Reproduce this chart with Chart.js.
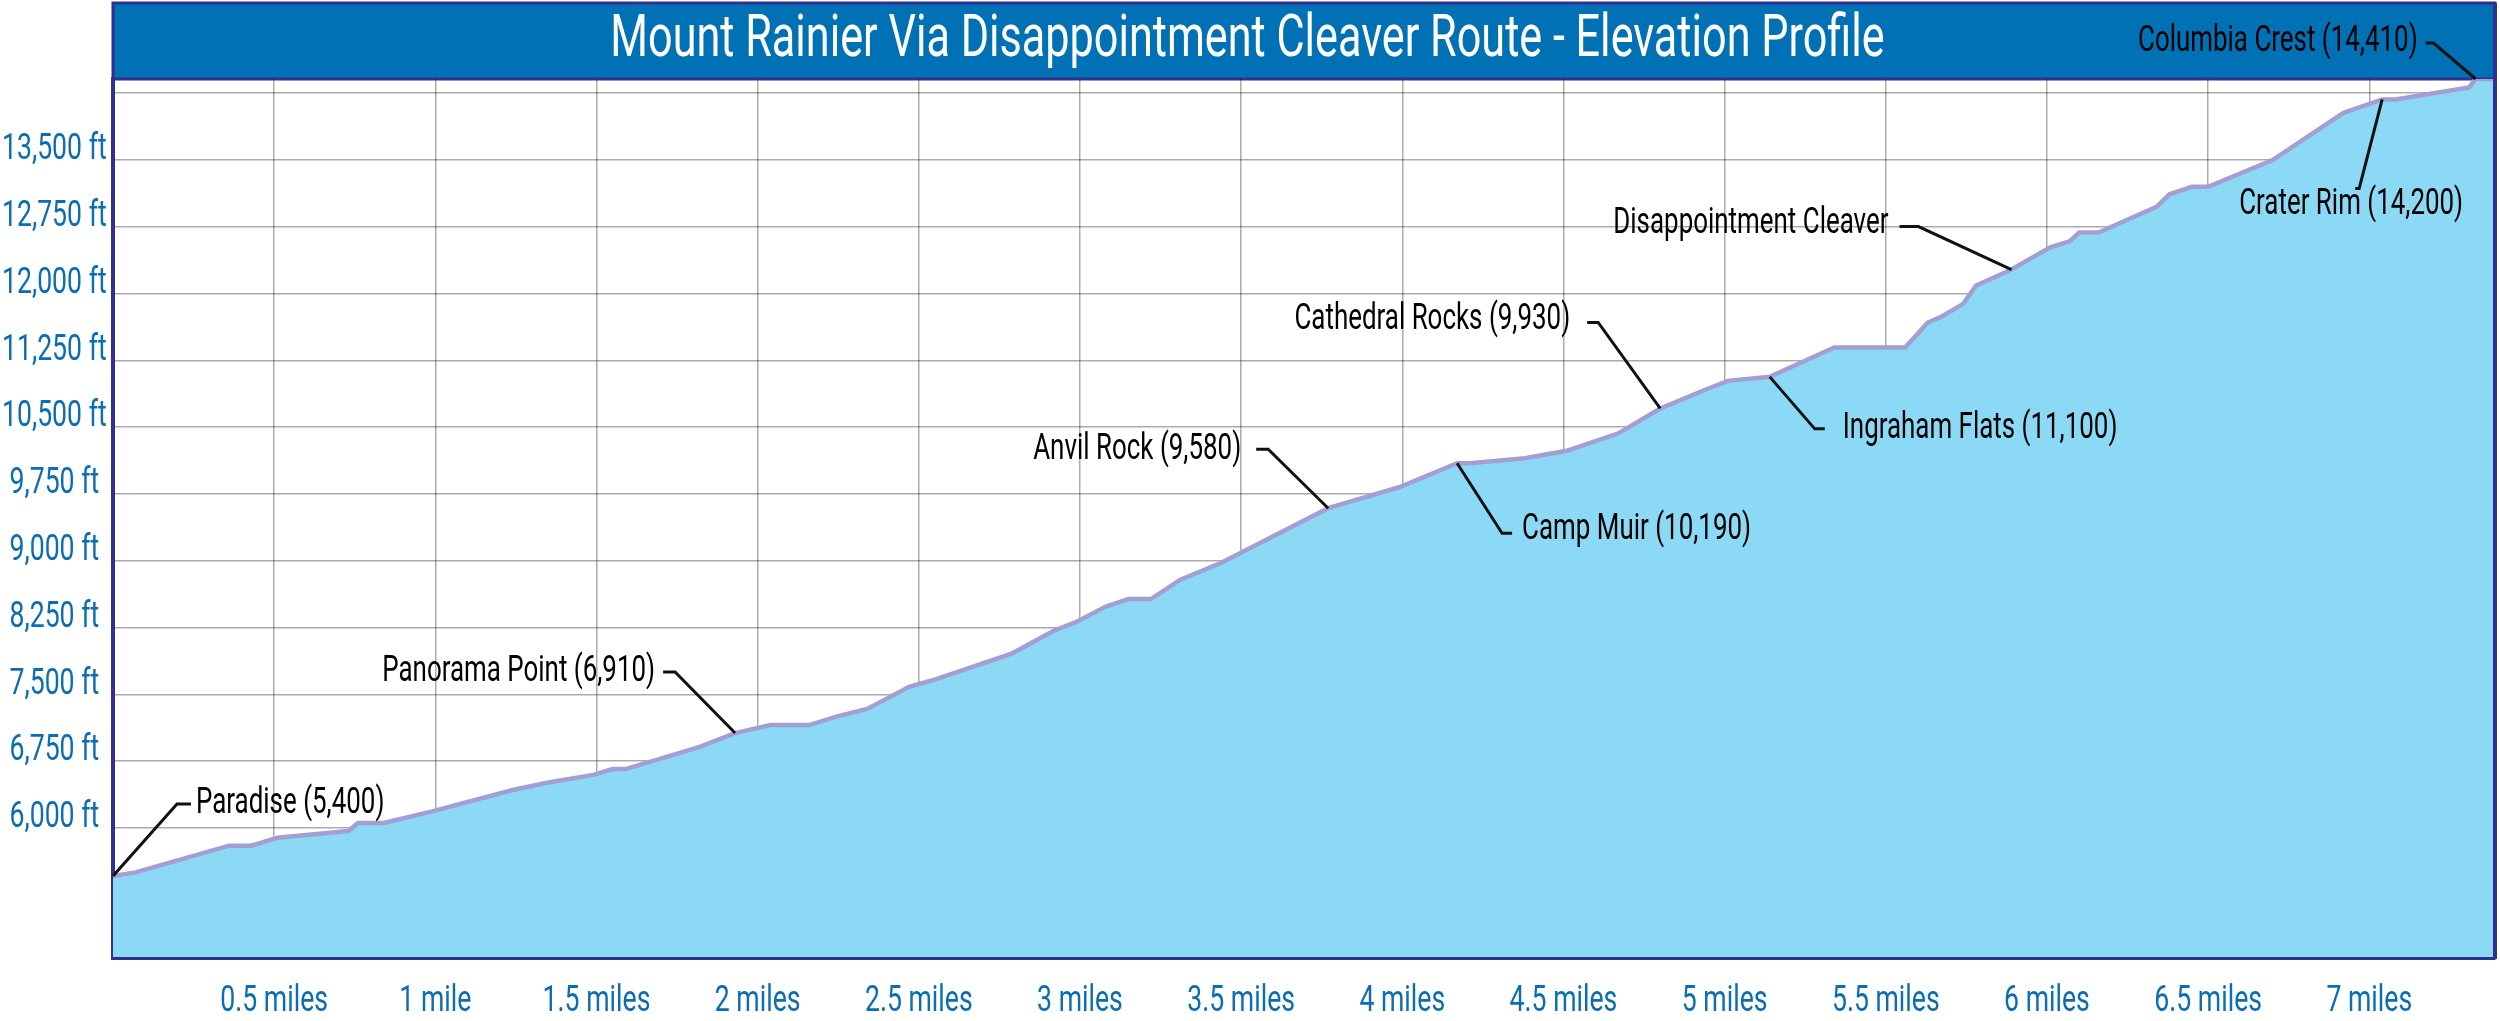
<!DOCTYPE html>
<html>
<head>
<meta charset="utf-8">
<title>Mount Rainier Elevation Profile</title>
<script src="https://cdn.jsdelivr.net/npm/chart.js@4.4.1/dist/chart.umd.min.js"></script>
<style>
  html, body { margin: 0; padding: 0; background: #fff; }
  #wrap { width: 2500px; height: 1021px; }
</style>
</head>
<body>
<div id="wrap"><canvas id="chart" width="2500" height="1021"></canvas></div>
<script>
// ===== DATA =====
const distanceMiles = [
    0.00, 0.07, 0.36, 0.43, 0.51, 0.73, 0.76, 0.84, 0.99, 1.24,
    1.35, 1.49, 1.55, 1.59, 1.82, 1.93, 2.04, 2.16, 2.25, 2.34,
    2.47, 2.54, 2.79, 2.92, 2.99, 3.08, 3.15, 3.22, 3.31, 3.44,
    3.77, 3.99, 4.17, 4.21, 4.38, 4.51, 4.67, 4.80, 4.94, 5.01,
    5.14, 5.34, 5.56, 5.63, 5.67, 5.74, 5.78, 5.89, 6.01, 6.07,
    6.10, 6.16, 6.34, 6.38, 6.45, 6.50, 6.70, 6.92, 7.04, 7.08,
    7.31, 7.33, 7.39
];
const elevationFt = [
    5460, 5500, 5800, 5800, 5890, 5965, 6055, 6055, 6185, 6425,
    6510, 6595, 6660, 6660, 6910, 7065, 7155, 7155, 7255, 7335,
    7585, 7655, 7960, 8215, 8315, 8485, 8570, 8570, 8785, 8980,
    9590, 9825, 10095, 10095, 10150, 10235, 10430, 10710, 10920, 11020,
    11065, 11395, 11395, 11675, 11735, 11885, 12090, 12270, 12520, 12585,
    12685, 12685, 12975, 13115, 13200, 13200, 13500, 14030, 14180, 14180,
    14315, 14410, 14410
];

const xTickValues = [0.5, 1, 1.5, 2, 2.5, 3, 3.5, 4, 4.5, 5, 5.5, 6, 6.5, 7];
const xTickLabels = ['0.5 miles', '1 mile', '1.5 miles', '2 miles', '2.5 miles', '3 miles', '3.5 miles',
    '4 miles', '4.5 miles', '5 miles', '5.5 miles', '6 miles', '6.5 miles', '7 miles'];
const yTickValues = [6000, 6750, 7500, 8250, 9000, 9750, 10500, 11250, 12000, 12750, 13500, 14250];
const yTickLabels = ['6,000 ft', '6,750 ft', '7,500 ft', '8,250 ft', '9,000 ft', '9,750 ft', '10,500 ft',
    '11,250 ft', '12,000 ft', '12,750 ft', '13,500 ft', ''];

// landmark callouts: text + which profile point they point at
const landmarkNames = ['Paradise (5,400)', 'Panorama Point (6,910)', 'Anvil Rock (9,580)', 'Camp Muir (10,190)',
    'Cathedral Rocks (9,930)', 'Ingraham Flats (11,100)', 'Disappointment Cleaver', 'Crater Rim (14,200)',
    'Columbia Crest (14,410)'];
const landmarkPoint = [0, 15, 30, 32, 37, 40, 47, 58, 61];

const FONT = "Roboto, 'Liberation Sans', sans-serif";
const SQUEEZE = 0.72;   // the original uses a tall condensed face
const DARK_BLUE = '#2e3192';
const BAR_BLUE = '#0071b5';
const TICK_BLUE = '#0b6db3';

// leader line layout per callout (pixel offsets from the point): elbow dx, dy, end dx, text x, text y, align
const calloutLayout = [
    { ex: 64, ey: -72, hx: 78, tx: 83, ty: -72, align: 'left' },
    { ex: -60, ey: -61, hx: -72, tx: -80, ty: -61, align: 'right' },
    { ex: -60, ey: -59, hx: -72, tx: -87, ty: -58, align: 'right' },
    { ex: 45, ey: 70, hx: 55, tx: 65, ty: 67, align: 'left' },
    { ex: -62, ey: -86, hx: -73, tx: -90, ty: -88, align: 'right' },
    { ex: 45, ey: 52, hx: 55, tx: 73, ty: 52, align: 'left' },
    { ex: -93, ey: -43, hx: -112, tx: -123, ty: -46, align: 'right' },
    { ex: -23, ey: 89, hx: -27, tx: -143, ty: 106, align: 'left' },
    { ex: -42, ey: -36, hx: -50, tx: -58, ty: -37, align: 'right' },
];

// squeeze all text horizontally around its anchor to fake a condensed font
const condensedText = {
    id: 'condensedText',
    beforeInit(chart) {
        const ctx = chart.ctx;
        const fill = ctx.fillText.bind(ctx);
        ctx.fillText = (text, x, y) => {
            ctx.save();
            ctx.translate(x, y);
            ctx.scale(SQUEEZE, 1);
            fill(text, 0, 0);
            ctx.restore();
        };
    }
};

const frameAndCallouts = {
    id: 'frameAndCallouts',
    beforeDraw(chart) {
        const { ctx, chartArea } = chart;
        ctx.save();
        ctx.fillStyle = BAR_BLUE;
        ctx.fillRect(chartArea.left, 3, chartArea.right - chartArea.left, chartArea.top - 3);
        ctx.strokeStyle = DARK_BLUE;
        ctx.lineWidth = 3;
        ctx.strokeRect(chartArea.left, 3, chartArea.right - chartArea.left, chartArea.top - 3);
        ctx.restore();
    },
    afterDraw(chart) {
        const { ctx, chartArea } = chart;
        ctx.save();
        // right edge of the plot frame
        ctx.strokeStyle = DARK_BLUE;
        ctx.lineWidth = 4;
        ctx.beginPath();
        ctx.moveTo(chartArea.right, 3);
        ctx.lineTo(chartArea.right, chartArea.bottom + 2);
        ctx.stroke();

        // callouts
        const pts = chart.getDatasetMeta(0).data;
        ctx.font = `36px ${FONT}`;
        ctx.textBaseline = 'middle';
        landmarkNames.forEach((name, i) => {
            const p = pts[landmarkPoint[i]];
            const l = calloutLayout[i];
            ctx.strokeStyle = '#111';
            ctx.lineWidth = 3;
            ctx.beginPath();
            ctx.moveTo(p.x, p.y);
            ctx.lineTo(p.x + l.ex, p.y + l.ey);
            ctx.lineTo(p.x + l.hx, p.y + l.ey);
            ctx.stroke();
            ctx.fillStyle = '#000';
            ctx.textAlign = l.align;
            ctx.fillText(name, p.x + l.tx, p.y + l.ty);
        });
        ctx.restore();
    }
};

new Chart(document.getElementById('chart'), {
    type: 'line',
    data: {
        datasets: [{
            label: 'Elevation',
            data: distanceMiles.map((d, i) => ({ x: d, y: elevationFt[i] })),
            borderColor: '#a39fd5',
            backgroundColor: '#8cd9f6',
            borderWidth: 4.5,
            fill: 'start',
            tension: 0,
            pointRadius: 0,
        }]
    },
    options: {
        responsive: false,
        animation: false,
        devicePixelRatio: 1,
        layout: { padding: { top: 3, right: 5, left: 0, bottom: 0 } },
        plugins: {
            legend: { display: false },
            tooltip: { enabled: false },
            title: {
                display: true,
                text: 'Mount Rainier Via Disappointment Cleaver Route - Elevation Profile',
                color: '#ffffff',
                font: { family: FONT, size: 60, weight: 'normal' },
                padding: { top: 2, bottom: 2 },
            }
        },
        scales: {
            x: {
                type: 'linear',
                min: 0,
                max: 7.39,
                z: 1,
                afterBuildTicks: s => { s.ticks = xTickValues.map(v => ({ value: v })); },
                afterFit: s => { s.height = 64; },
                ticks: {
                    autoSkip: false,
                    maxRotation: 0,
                    padding: 23,
                    color: TICK_BLUE,
                    font: { family: FONT, size: 37 },
                    callback: (v, i) => xTickLabels[i],
                },
                grid: { color: 'rgba(0,0,0,0.33)', lineWidth: 1.5, drawTicks: false },
                border: { color: DARK_BLUE, width: 5 },
            },
            y: {
                min: 4550,
                max: 14410,
                z: 1,
                afterBuildTicks: s => { s.ticks = yTickValues.map(v => ({ value: v })); },
                afterFit: s => { s.width = 113; },
                ticks: {
                    crossAlign: 'center',
                    padding: -14,
                    labelOffset: -10,
                    color: TICK_BLUE,
                    font: { family: FONT, size: 37 },
                    callback: (v, i) => yTickLabels[i],
                },
                grid: { color: 'rgba(0,0,0,0.33)', lineWidth: 1.5, drawTicks: false },
                border: { color: DARK_BLUE, width: 4 },
            }
        }
    },
    plugins: [condensedText, frameAndCallouts]
});
</script>
</body>
</html>
